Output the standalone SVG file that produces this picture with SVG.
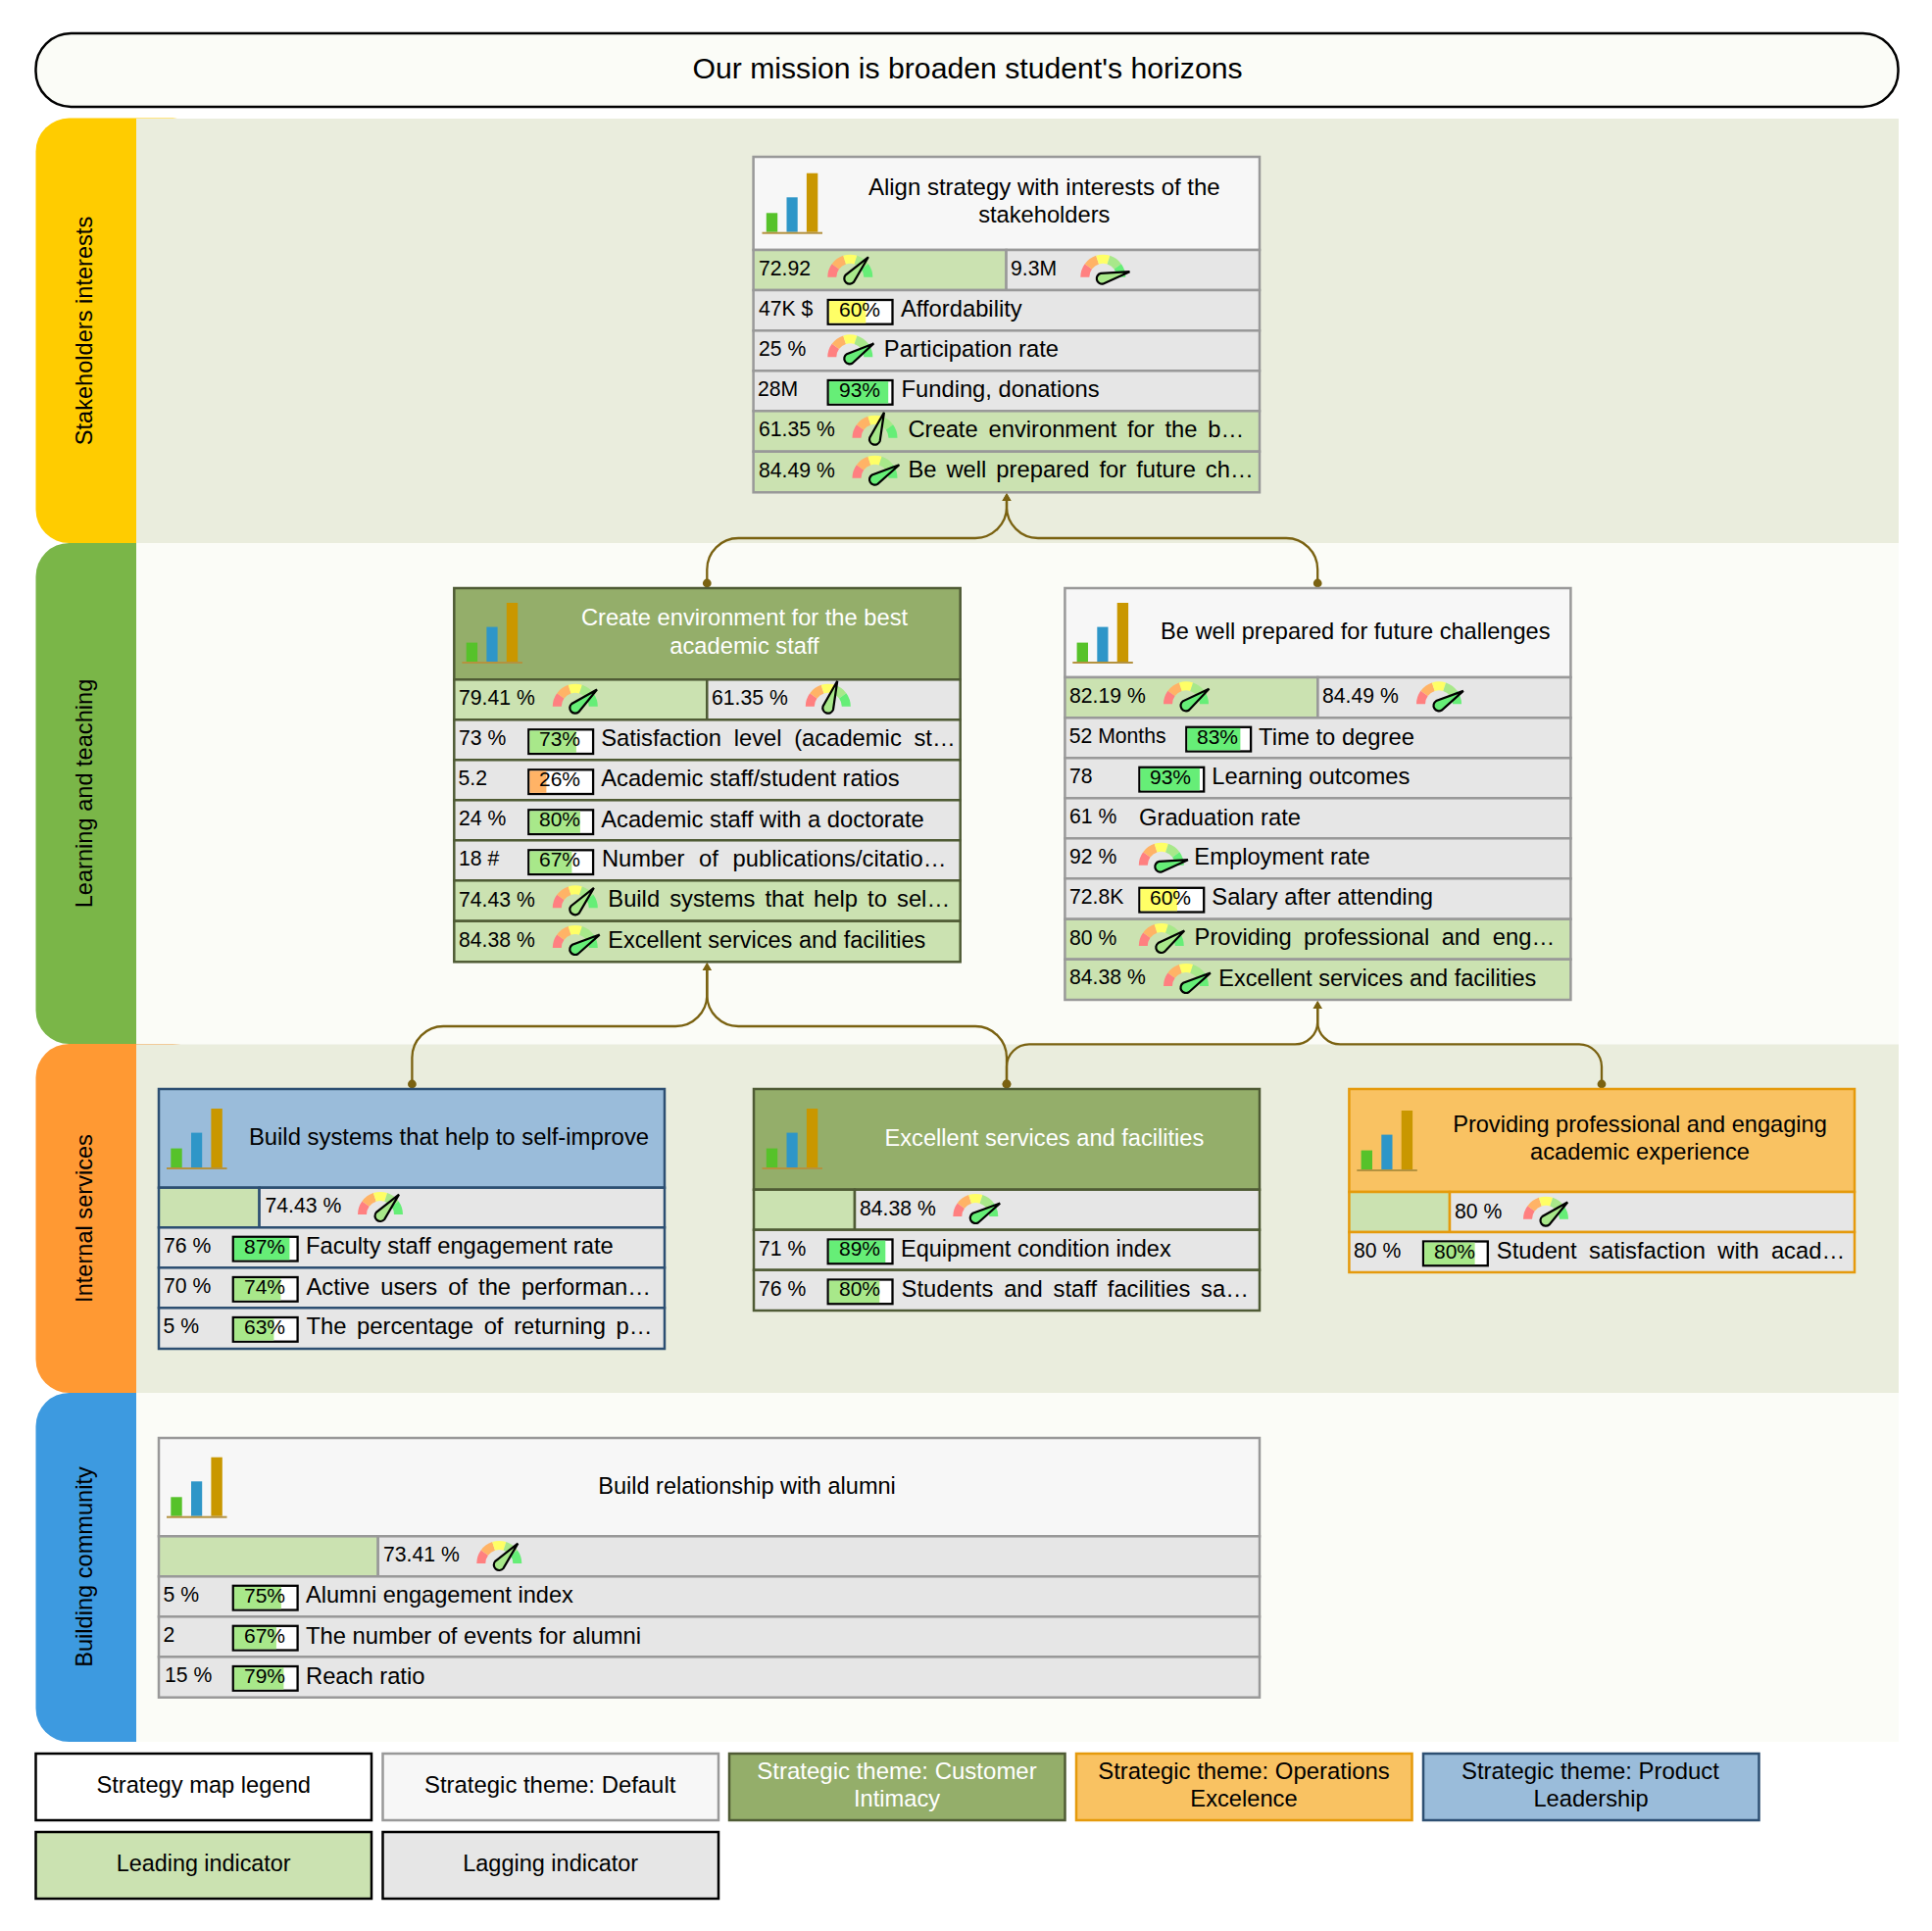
<svg xmlns="http://www.w3.org/2000/svg" xmlns:xlink="http://www.w3.org/1999/xlink" width="1971" height="1970" viewBox="0 0 1971 1970">
<style>
text{font-family:"Liberation Sans",Arial,sans-serif;fill:#000}
.v{font-size:21.2px}
.l{font-size:23.75px}
.p{font-size:21px;text-anchor:middle}
.h{font-size:23.7px;text-anchor:middle}
.lt{font-size:23.6px;text-anchor:middle}
.hd{fill:#f7f7f7}.cu{fill:#94ae6a}.op{fill:#f9c262}.pr{fill:#9abcda}
.le{fill:#cbe2b1}.la{fill:#e6e6e6}
.nd rect{stroke:#999;stroke-width:2.5}
.nc rect{stroke:#4f5b35;stroke-width:2.5}
.no rect{stroke:#e59a0c;stroke-width:2.5}
.np rect{stroke:#2d4f72;stroke-width:2.5}
.nd rect.b,.nc rect.b,.no rect.b,.np rect.b{fill:#fff;stroke:#000;stroke-width:2.3}
rect.f{stroke:none!important}
.ny{fill:#ffff66}.ng{fill:#66ee77}.nl{fill:#a8e88a}.nr{fill:#ffb366}
.conn{fill:none;stroke:#7a6211;stroke-width:2.3;marker-end:url(#arr);marker-start:url(#dot)}
</style>
<defs>
<marker id="arr" markerUnits="userSpaceOnUse" markerWidth="12" markerHeight="12" refX="0" refY="5" orient="auto"><path d="M0,0.4 L8,5 L0,9.6 Z" fill="#7a6211"/></marker>
<marker id="dot" markerUnits="userSpaceOnUse" markerWidth="10" markerHeight="10" refX="5" refY="5"><circle cx="5" cy="5" r="4.4" fill="#7a6211"/></marker>
<g id="ic">
<rect x="4.3" y="-19.4" width="11.4" height="19.4" fill="#56c22a"/>
<rect x="25" y="-35.4" width="11.2" height="35.4" fill="#2e96c8"/>
<rect x="45.4" y="-60" width="11.4" height="60" fill="#c99700"/>
<rect x="0" y="0" width="61.5" height="2" fill="#b4923f"/>
</g>
<g id="g">
<path d="M-23,0 A23,23 0 0 1 -18.6,-13.5 L-11.3,-8.2 A14,14 0 0 0 -14,0 Z" fill="#ff8080"/>
<path d="M-18.6,-13.5 A23,23 0 0 1 -7.1,-21.9 L-4.3,-13.3 A14,14 0 0 0 -11.3,-8.2 Z" fill="#ffb366"/>
<path d="M-7.1,-21.9 A23,23 0 0 1 7.1,-21.9 L4.3,-13.3 A14,14 0 0 0 -4.3,-13.3 Z" fill="#ffff66"/>
<path d="M7.1,-21.9 A23,23 0 0 1 18.6,-13.5 L11.3,-8.2 A14,14 0 0 0 4.3,-13.3 Z" fill="#a8e88a"/>
<path d="M18.6,-13.5 A23,23 0 0 1 23,0 L14,0 A14,14 0 0 0 11.3,-8.2 Z" fill="#66ee77"/>
</g>
<path id="n" d="M0,-29 L5.5,0 A5.5,5.5 0 1 1 -5.5,0 Z" stroke="#000" stroke-width="2.2" stroke-linejoin="miter"/>
</defs>
<rect width="1971" height="1970" fill="#fff"/>
<g id="mission">
<rect x="36.5" y="34" width="1900" height="75" rx="36" fill="#fbfcf7" stroke="#000" stroke-width="2.5"/>
<text x="987" y="80" font-size="30.2" text-anchor="middle">Our mission is broaden student's horizons</text>
</g>
<g id="lanes">
<rect x="36.5" y="120.6" width="174" height="433.4" rx="34" fill="#ffcc00"/>
<rect x="139" y="121" width="1798" height="433" fill="#eaeddd"/>
<rect x="36.5" y="554" width="174" height="511" rx="34" fill="#7ab648"/>
<rect x="139" y="554" width="1798" height="511" fill="#fbfcf7"/>
<rect x="36.5" y="1065" width="174" height="356" rx="34" fill="#ff9933"/>
<rect x="139" y="1065.4" width="1798" height="355.6" fill="#eaeddd"/>
<rect x="36.5" y="1421" width="174" height="356" rx="34" fill="#3d9ae0"/>
<rect x="139" y="1421" width="1798" height="356" fill="#fbfcf7"/>
<text class="lt" transform="translate(93.7,337.5) rotate(-90)">Stakeholders interests</text>
<text class="lt" transform="translate(93.7,809.5) rotate(-90)">Learning and teaching</text>
<text class="lt" transform="translate(93.7,1243) rotate(-90)">Internal services</text>
<text class="lt" transform="translate(93.7,1598.5) rotate(-90)">Building community</text>
</g>
<g id="connectors">
<path class="conn" d="M721.3,595 V581 A32,32 0 0 1 753.3,549 H995 A32,32 0 0 0 1027,517 V511"/>
<path class="conn" d="M1344.2,595 V581 A32,32 0 0 0 1312.2,549 H1059 A32,32 0 0 1 1027,517 V511"/>
<path class="conn" d="M420.4,1106 V1079 A32,32 0 0 1 452.4,1047 H689.3 A32,32 0 0 0 721.3,1015 V990"/>
<path class="conn" d="M1027,1106 V1079 A32,32 0 0 0 995,1047 H753.3 A32,32 0 0 1 721.3,1015 V990"/>
<path class="conn" d="M1027,1106 V1088 A23,23 0 0 1 1050,1065.4 H1321.2 A23,23 0 0 0 1344.2,1042.4 V1029"/>
<path class="conn" d="M1634,1106 V1088 A23,23 0 0 0 1611,1065.4 H1367.2 A23,23 0 0 1 1344.2,1042.4 V1029"/>
</g>
<g id="n1" class="nd">
<rect class="hd" x="768.6" y="160" width="516.4" height="95"/>
<use href="#ic" x="777.5" y="236.7"/>
<text class="h" style="font-size:24px" x="1065.3" y="198.7">Align strategy with interests of the</text>
<text class="h" x="1065.3" y="226.7">stakeholders</text>
<rect class="le" x="768.6" y="255" width="258" height="41"/>
<rect class="la" x="1026.6" y="255" width="258.4" height="41"/>
<text class="v" x="774" y="281">72.92</text>
<g transform="translate(867.3,282.7)"><use href="#g"/><use href="#n" class="nl" transform="translate(-.5,1.5) rotate(41)"/></g>
<text class="v" x="1031" y="281">9.3M</text>
<g transform="translate(1125.3,282.7)"><use href="#g"/><use href="#n" class="nl" transform="translate(-1,1.5) rotate(76)"/></g>
<rect class="la" x="768.6" y="296" width="516.4" height="41.3"/>
<text class="v" x="774" y="321.7">47K $</text>
<rect class="b" x="844.7" y="306" width="65.8" height="24.7"/><rect class="f ny" x="845.8" y="307.1" width="37.5" height="22.5"/>
<text class="p" x="877" y="322.7">60%</text>
<text class="l" x="919" y="323">Affordability</text>
<rect class="la" x="768.6" y="337.3" width="516.4" height="41"/>
<text class="v" x="774" y="363">25 %</text>
<g transform="translate(867.3,364.3)"><use href="#g"/><use href="#n" class="ng" transform="translate(-.5,1.5) rotate(58)"/></g>
<text class="l" x="901.8" y="364">Participation rate</text>
<rect class="la" x="768.6" y="378.3" width="516.4" height="41"/>
<text class="v" x="773" y="404">28M</text>
<rect class="b" x="844.7" y="388" width="65.8" height="24.7"/><rect class="f ng" x="845.8" y="389.1" width="60.4" height="22.5"/>
<text class="p" x="877" y="404.5">93%</text>
<text class="l" x="919.5" y="405">Funding, donations</text>
<rect class="le" x="768.6" y="419.3" width="516.4" height="41.4"/>
<text class="v" x="774" y="445">61.35 %</text>
<g transform="translate(892.5,446.7)"><use href="#g"/><use href="#n" class="nl" transform="translate(0,1.5) rotate(19)"/></g>
<text class="l" x="926.4" y="446" style="word-spacing:4.2px">Create environment for the b…</text>
<rect class="le" x="768.6" y="460.7" width="516.4" height="41.6"/>
<text class="v" x="774" y="486.5">84.49 %</text>
<g transform="translate(892.5,487.7)"><use href="#g"/><use href="#n" class="ng" transform="translate(0,1.5) rotate(59)"/></g>
<text class="l" x="926.4" y="486.7" style="word-spacing:3.4px">Be well prepared for future ch…</text>
</g>
<g id="n2" class="nc">
<rect class="cu" x="463.3" y="600" width="516.4" height="93.3"/>
<use href="#ic" x="471.4" y="675"/>
<text class="h" style="fill:#fff" x="759.5" y="638">Create environment for the best</text>
<text class="h" style="fill:#fff" x="759.5" y="666.7">academic staff</text>
<rect class="le" x="463.3" y="693.3" width="258" height="41"/>
<rect class="la" x="721.3" y="693.3" width="258.4" height="41"/>
<text class="v" x="468" y="719">79.41 %</text>
<g transform="translate(586.8,720.7)"><use href="#g"/><use href="#n" class="ng" transform="translate(0,1.5) rotate(50)"/></g>
<text class="v" x="726" y="719">61.35 %</text>
<g transform="translate(844.8,720.7)"><use href="#g"/><use href="#n" class="nl" transform="translate(0,1.5) rotate(19)"/></g>
<rect class="la" x="463.3" y="734.3" width="516.4" height="41"/>
<text class="v" x="468" y="760">73 %</text>
<rect class="b" x="539.3" y="744.3" width="65.8" height="24.7"/><rect class="f nl" x="540.4" y="745.4" width="47.5" height="22.5"/>
<text class="p" x="571" y="761">73%</text>
<text class="l" x="613.2" y="760.5" style="word-spacing:6.1px">Satisfaction level (academic st…</text>
<rect class="la" x="463.3" y="775.3" width="516.4" height="41"/>
<text class="v" x="467.5" y="801">5.2</text>
<rect class="b" x="539.3" y="785.3" width="65.8" height="24.7"/><rect class="f nr" x="540.4" y="786.4" width="17" height="22.5"/>
<text class="p" x="571" y="802">26%</text>
<text class="l" x="613.2" y="802.3">Academic staff/student ratios</text>
<rect class="la" x="463.3" y="816.3" width="516.4" height="41"/>
<text class="v" x="468" y="842">24 %</text>
<rect class="b" x="539.3" y="826.3" width="65.8" height="24.7"/><rect class="f nl" x="540.4" y="827.4" width="51.5" height="22.5"/>
<text class="p" x="571" y="843">80%</text>
<text class="l" x="613.2" y="843.8">Academic staff with a doctorate</text>
<rect class="la" x="463.3" y="857.3" width="516.4" height="41"/>
<text class="v" x="468" y="883">18 #</text>
<rect class="b" x="539.3" y="867.3" width="65.8" height="24.7"/><rect class="f nl" x="540.4" y="868.4" width="43" height="22.5"/>
<text class="p" x="571" y="884">67%</text>
<text class="l" x="613.9" y="884.2" style="word-spacing:8.1px">Number of publications/citatio…</text>
<rect class="le" x="463.3" y="898.3" width="516.4" height="41.4"/>
<text class="v" x="468" y="925">74.43 %</text>
<g transform="translate(586.8,926.3)"><use href="#g"/><use href="#n" class="nl" transform="translate(0,1.5) rotate(41)"/></g>
<text class="l" x="620.3" y="924.5" style="word-spacing:3.5px">Build systems that help to sel…</text>
<rect class="le" x="463.3" y="939.7" width="516.4" height="41.6"/>
<text class="v" x="468" y="966">84.38 %</text>
<g transform="translate(586.8,967)"><use href="#g"/><use href="#n" class="ng" transform="translate(0,1.5) rotate(59)"/></g>
<text class="l" x="620.3" y="966.7" style="font-size:23.5px">Excellent services and facilities</text>
</g>
<g id="n3" class="nd">
<rect class="hd" x="1086.4" y="600" width="516" height="91"/>
<use href="#ic" x="1094.3" y="675"/>
<text class="h" x="1382.8" y="651.7" style="font-size:23.6px">Be well prepared for future challenges</text>
<rect class="le" x="1086.4" y="691" width="258" height="41.3"/>
<rect class="la" x="1344.4" y="691" width="258" height="41.3"/>
<text class="v" x="1091" y="717">82.19 %</text>
<g transform="translate(1210,718.3)"><use href="#g"/><use href="#n" class="ng" transform="translate(0,1.5) rotate(54)"/></g>
<text class="v" x="1349" y="717">84.49 %</text>
<g transform="translate(1468,718.3)"><use href="#g"/><use href="#n" class="ng" transform="translate(0,1.5) rotate(59)"/></g>
<rect class="la" x="1086.4" y="732.3" width="516" height="41"/>
<text class="v" x="1090.7" y="758">52 Months</text>
<rect class="b" x="1210.3" y="741.8" width="65.8" height="24.7"/><rect class="f ng" x="1211.4" y="742.9" width="54" height="22.5"/>
<text class="p" x="1242" y="758.5">83%</text>
<text class="l" x="1284" y="759.5">Time to degree</text>
<rect class="la" x="1086.4" y="773.3" width="516" height="41"/>
<text class="v" x="1091" y="799">78</text>
<rect class="b" x="1162.4" y="782.8" width="65.8" height="24.7"/><rect class="f ng" x="1163.5" y="783.9" width="60.4" height="22.5"/>
<text class="p" x="1194" y="799.5">93%</text>
<text class="l" x="1236.3" y="800.2">Learning outcomes</text>
<rect class="la" x="1086.4" y="814.3" width="516" height="41"/>
<text class="v" x="1091" y="840">61 %</text>
<text class="l" x="1162" y="841.9">Graduation rate</text>
<rect class="la" x="1086.4" y="855.3" width="516" height="41"/>
<text class="v" x="1091" y="881">92 %</text>
<g transform="translate(1184.8,882.7)"><use href="#g"/><use href="#n" class="ng" transform="translate(-1,1.5) rotate(76)"/></g>
<text class="l" x="1218.3" y="882.3">Employment rate</text>
<rect class="la" x="1086.4" y="896.3" width="516" height="41.4"/>
<text class="v" x="1091" y="922">72.8K</text>
<rect class="b" x="1162.4" y="905.8" width="65.8" height="24.7"/><rect class="f ny" x="1163.5" y="906.9" width="37.5" height="22.5"/>
<text class="p" x="1194" y="922.5">60%</text>
<text class="l" x="1236.3" y="922.5">Salary after attending</text>
<rect class="le" x="1086.4" y="937.7" width="516" height="41"/>
<text class="v" x="1091" y="963.5">80 %</text>
<g transform="translate(1184.8,965)"><use href="#g"/><use href="#n" class="nl" transform="translate(0,1.5) rotate(54)"/></g>
<text class="l" x="1218.6" y="963.7" style="word-spacing:5.9px">Providing professional and eng…</text>
<rect class="le" x="1086.4" y="978.7" width="516" height="41.3"/>
<text class="v" x="1091" y="1004.2">84.38 %</text>
<g transform="translate(1210,1006)"><use href="#g"/><use href="#n" class="ng" transform="translate(0,1.5) rotate(59)"/></g>
<text class="l" x="1243.3" y="1005.8" style="font-size:23.5px">Excellent services and facilities</text>
</g>
<g id="n4" class="np">
<rect class="pr" x="162" y="1111" width="516" height="100.7"/>
<use href="#ic" x="170" y="1191"/>
<text class="h" x="458" y="1168" style="font-size:23.85px">Build systems that help to self-improve</text>
<rect class="le" x="162" y="1211.7" width="102.6" height="40.6"/>
<rect class="la" x="264.6" y="1211.7" width="413.4" height="40.6"/>
<text class="v" x="270.5" y="1237">74.43 %</text>
<g transform="translate(388,1239)"><use href="#g"/><use href="#n" class="nl" transform="translate(0,1.5) rotate(41)"/></g>
<rect class="la" x="162" y="1252.3" width="516" height="41"/>
<text class="v" x="167" y="1278">76 %</text>
<rect class="b" x="237.8" y="1261.8" width="65.8" height="24.7"/><rect class="f ng" x="238.9" y="1262.9" width="56.5" height="22.5"/>
<text class="p" x="270" y="1278.5">87%</text>
<text class="l" x="312" y="1278.5">Faculty staff engagement rate</text>
<rect class="la" x="162" y="1293.3" width="516" height="41"/>
<text class="v" x="167" y="1319">70 %</text>
<rect class="b" x="237.8" y="1303" width="65.8" height="24.7"/><rect class="f nl" x="238.9" y="1304.1" width="47.5" height="22.5"/>
<text class="p" x="270" y="1320">74%</text>
<text class="l" x="312.5" y="1321" style="word-spacing:4.4px">Active users of the performan…</text>
<rect class="la" x="162" y="1334.3" width="516" height="41.7"/>
<text class="v" x="166.5" y="1360">5 %</text>
<rect class="b" x="237.8" y="1344" width="65.8" height="24.7"/><rect class="f nl" x="238.9" y="1345.1" width="40.5" height="22.5"/>
<text class="p" x="270" y="1361">63%</text>
<text class="l" x="312.5" y="1360.5" style="word-spacing:4.1px">The percentage of returning p…</text>
</g>
<g id="n5" class="nc">
<rect class="cu" x="769" y="1111" width="516" height="102.7"/>
<use href="#ic" x="777.5" y="1191"/>
<text class="h" style="fill:#fff;font-size:23.65px" x="1065.4" y="1169">Excellent services and facilities</text>
<rect class="le" x="769" y="1213.7" width="103" height="41"/>
<rect class="la" x="872" y="1213.7" width="413" height="41"/>
<text class="v" x="877" y="1240">84.38 %</text>
<g transform="translate(995.3,1241)"><use href="#g"/><use href="#n" class="ng" transform="translate(0,1.5) rotate(59)"/></g>
<rect class="la" x="769" y="1254.7" width="516" height="41"/>
<text class="v" x="774" y="1280.5">71 %</text>
<rect class="b" x="844.7" y="1264.5" width="65.8" height="24.7"/><rect class="f ng" x="845.8" y="1265.6" width="57.5" height="22.5"/>
<text class="p" x="877" y="1281">89%</text>
<text class="l" x="919" y="1282" style="font-size:23.5px">Equipment condition index</text>
<rect class="la" x="769" y="1295.7" width="516" height="41.3"/>
<text class="v" x="774" y="1322">76 %</text>
<rect class="b" x="844.7" y="1305.5" width="65.8" height="24.7"/><rect class="f nl" x="845.8" y="1306.6" width="51.5" height="22.5"/>
<text class="p" x="877" y="1322">80%</text>
<text class="l" x="919.6" y="1323" style="word-spacing:4.2px">Students and staff facilities sa…</text>
</g>
<g id="n6" class="no">
<rect class="op" x="1376.4" y="1111" width="515.6" height="105"/>
<use href="#ic" x="1384.3" y="1193"/>
<text class="h" x="1673" y="1155" style="font-size:23.6px">Providing professional and engaging</text>
<text class="h" x="1673" y="1182.7">academic experience</text>
<rect class="le" x="1376.4" y="1216" width="102.6" height="41"/>
<rect class="la" x="1479" y="1216" width="413" height="41"/>
<text class="v" x="1484" y="1242.5">80 %</text>
<g transform="translate(1577,1243.7)"><use href="#g"/><use href="#n" class="nl" transform="translate(0,1.5) rotate(50)"/></g>
<rect class="la" x="1376.4" y="1257" width="515.6" height="41"/>
<text class="v" x="1381" y="1283">80 %</text>
<rect class="b" x="1452" y="1266.5" width="65.8" height="24.7"/><rect class="f nl" x="1453.1" y="1267.6" width="51.5" height="22.5"/>
<text class="p" x="1484" y="1283.5">80%</text>
<text class="l" x="1526.8" y="1283.5" style="word-spacing:5.8px">Student satisfaction with acad…</text>
</g>
<g id="n7" class="nd">
<rect class="hd" x="162" y="1467" width="1123" height="100.3"/>
<use href="#ic" x="170" y="1546.7"/>
<text class="h" x="762" y="1523.5" style="font-size:23.55px">Build relationship with alumni</text>
<rect class="le" x="162" y="1567.3" width="223.7" height="41"/>
<rect class="la" x="385.7" y="1567.3" width="899.3" height="41"/>
<text class="v" x="391" y="1593">73.41 %</text>
<g transform="translate(509.3,1595)"><use href="#g"/><use href="#n" class="nl" transform="translate(0,1.5) rotate(41)"/></g>
<rect class="la" x="162" y="1608.3" width="1123" height="41"/>
<text class="v" x="166.5" y="1634">5 %</text>
<rect class="b" x="237.8" y="1617.8" width="65.8" height="24.7"/><rect class="f nl" x="238.9" y="1618.9" width="48" height="22.5"/>
<text class="p" x="270" y="1634.5">75%</text>
<text class="l" x="312" y="1635.3" style="font-size:23.6px">Alumni engagement index</text>
<rect class="la" x="162" y="1649.3" width="1123" height="41"/>
<text class="v" x="166.5" y="1675">2</text>
<rect class="b" x="237.8" y="1658.8" width="65.8" height="24.7"/><rect class="f nl" x="238.9" y="1659.9" width="43" height="22.5"/>
<text class="p" x="270" y="1675.5">67%</text>
<text class="l" x="312" y="1677">The number of events for alumni</text>
<rect class="la" x="162" y="1690.3" width="1123" height="41.4"/>
<text class="v" x="168" y="1716">15 %</text>
<rect class="b" x="237.8" y="1700" width="65.8" height="24.7"/><rect class="f nl" x="238.9" y="1701.1" width="50.5" height="22.5"/>
<text class="p" x="270" y="1716.5">79%</text>
<text class="l" x="312" y="1718">Reach ratio</text>
</g>
<g id="legend">
<g id="leg1" class="nd"><rect style="stroke:#000" fill="#fff" x="36.5" y="1789" width="342.5" height="68"/><text class="h" x="207.7" y="1829">Strategy map legend</text></g>
<g id="leg2" class="nd"><rect class="hd" x="390.5" y="1789" width="342.5" height="68"/><text class="h" x="561.2" y="1829" style="font-size:23.9px">Strategic theme: Default</text></g>
<g id="leg3" class="nc"><rect class="cu" x="744" y="1789" width="342.5" height="68"/><text class="h" style="fill:#fff;font-size:24px" x="915" y="1815">Strategic theme: Customer</text><text class="h" style="fill:#fff" x="915" y="1843">Intimacy</text></g>
<g id="leg4" class="no"><rect class="op" x="1098" y="1789" width="342.5" height="68"/><text class="h" x="1269" y="1815" style="font-size:23.9px">Strategic theme: Operations</text><text class="h" x="1269" y="1843">Excelence</text></g>
<g id="leg5" class="np"><rect class="pr" x="1452" y="1789" width="342.5" height="68"/><text class="h" x="1622.5" y="1815" style="font-size:23.9px">Strategic theme: Product</text><text class="h" x="1623" y="1843">Leadership</text></g>
<g id="leg6" class="nd"><rect class="le" style="stroke:#000" x="36.5" y="1869" width="342.5" height="68"/><text class="h" x="207.7" y="1909" style="font-size:23.35px">Leading indicator</text></g>
<g id="leg7" class="nd"><rect class="la" style="stroke:#000" x="390.5" y="1869" width="342.5" height="68"/><text class="h" x="561.7" y="1909" style="font-size:23.5px">Lagging indicator</text></g>
</g>
</svg>
